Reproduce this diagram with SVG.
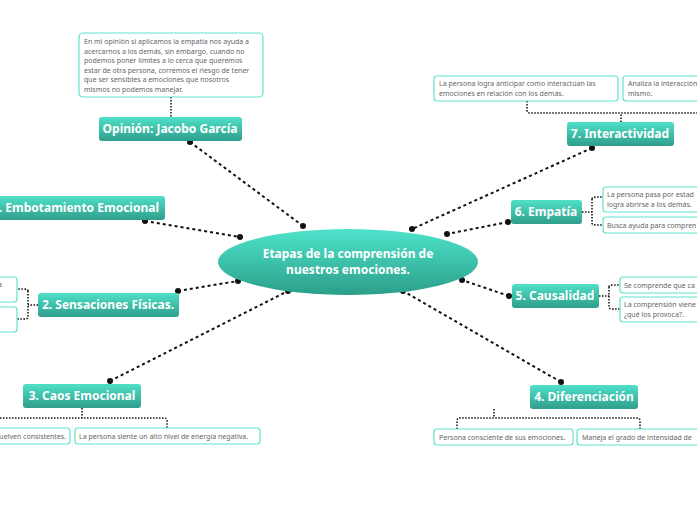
<svg xmlns="http://www.w3.org/2000/svg" width="697" height="520" viewBox="0 0 697 520">
<defs>
<linearGradient id="g" x1="0" y1="0" x2="0" y2="1"><stop offset="0" stop-color="#4fe0c8"/><stop offset="1" stop-color="#2f9e8c"/></linearGradient>
<linearGradient id="ge" x1="0" y1="0" x2="0" y2="1"><stop offset="0" stop-color="#4fe3cb"/><stop offset="1" stop-color="#2b9f8a"/></linearGradient>
<style>
.n{fill:url(#g)}
.nt{font-family:"Noto Sans",sans-serif;font-weight:bold;font-size:12px;fill:#fff}
.l{fill:#fff;stroke:#5ee3cf;stroke-width:1.2}
.lt{font-family:"Noto Sans",sans-serif;font-size:7px;fill:#666}
.c{stroke:#111;stroke-width:2;stroke-dasharray:3 3;fill:none}
.s{stroke:#111;stroke-width:1.5;stroke-dasharray:1.5 1.5;fill:none}
.d{fill:#111}
</style>
</defs>
<rect width="697" height="520" fill="#fff"/>
<g id="connectors">
<path class="c" d="M190 142L303 226M145 221L240 237M178 291L238 281M110 381L288 291M561 382L403 291M509 296L462 280M508 222L447 234M592 148L412 229"/>
<g class="d">
<circle cx="190" cy="142" r="3"/><circle cx="303" cy="226" r="3"/>
<circle cx="145" cy="221" r="3"/><circle cx="240" cy="237" r="3"/>
<circle cx="178" cy="291" r="3"/><circle cx="238" cy="281" r="3"/>
<circle cx="110" cy="381" r="3"/><circle cx="288" cy="291" r="3"/>
<circle cx="561" cy="382" r="3"/><circle cx="403" cy="291" r="3"/>
<circle cx="509" cy="296" r="3"/><circle cx="462" cy="280" r="3"/>
<circle cx="508" cy="222" r="3"/><circle cx="447" cy="234" r="3"/>
<circle cx="592" cy="148" r="3"/><circle cx="412" cy="229" r="3"/>
</g>
<path class="s" d="M171 97V117"/>
<path class="s" d="M621 122V113M527 101V110Q527 113 530 113H697"/>
<path class="s" d="M582 212H592M592 199Q592 197 596 197H603M592 199V223Q592 225 596 225H603"/>
<path class="s" d="M599 296H609M609 287Q609 285 613 285H620M609 287V307Q609 309 613 309H620"/>
<path class="s" d="M38 305H28M28 291Q28 289 24 289H17M28 291V317Q28 319 24 319H17"/>
<path class="s" d="M82 408V418M0 418H164Q167 418 167 421V428"/>
<path class="s" d="M494 409V418M457 429V421Q457 418 460 418H637Q640 418 640 421V429"/>
</g>
<g id="center">
<ellipse cx="348" cy="262" rx="130" ry="33" fill="url(#ge)"/>
<text class="nt" x="348" y="258" text-anchor="middle" font-size="11.5">Etapas de la comprensión de</text>
<text class="nt" x="348" y="274" text-anchor="middle" font-size="11.5">nuestros emociones.</text>
</g>
<g id="opinion">
<rect class="n" x="99" y="117" width="143" height="24" rx="3"/>
<text class="nt" x="170" y="133" text-anchor="middle">Opinión: Jacobo García</text>
<rect class="l" x="79" y="33" width="184" height="64" rx="4"/>
<text class="lt" x="84" y="44">En mi opinión si aplicamos la empatía nos ayuda a</text>
<text class="lt" x="84" y="53.5">acercarnos a los demás, sin embargo, cuando no</text>
<text class="lt" x="84" y="63">podemos poner límites a lo cerca que queremos</text>
<text class="lt" x="84" y="72.5">estar de otra persona, corremos el riesgo de tener</text>
<text class="lt" x="84" y="82">que ser sensibles a emociones que nosotros</text>
<text class="lt" x="84" y="91.5">mismos no podemos manejar.</text>
</g>
<g id="n1">
<rect class="n" x="-6" y="196" width="171" height="24" rx="3"/>
<text class="nt" x="159" y="212" text-anchor="end">1. Embotamiento Emocional</text>
</g>
<g id="n2">
<rect class="n" x="38" y="293" width="141" height="24" rx="3"/>
<text class="nt" x="108" y="309" text-anchor="middle">2. Sensaciones Físicas.</text>
<rect class="l" x="-5" y="277" width="22" height="25" rx="3"/>
<text class="lt" x="-2" y="287">a</text>
<rect class="l" x="-5" y="307" width="22" height="25" rx="3"/>
</g>
<g id="n3">
<rect class="n" x="23" y="384" width="118" height="24" rx="3"/>
<text class="nt" x="82" y="400" text-anchor="middle">3. Caos Emocional</text>
<rect class="l" x="-5" y="428" width="75" height="16" rx="3"/>
<text class="lt" x="66" y="439" text-anchor="end">uelven consistentes.</text>
<rect class="l" x="75" y="428" width="185" height="16" rx="3"/>
<text class="lt" x="79" y="439">La persona siente un alto nivel de energía negativa.</text>
</g>
<g id="n4">
<rect class="n" x="530" y="385" width="108" height="24" rx="3"/>
<text class="nt" x="584" y="401" text-anchor="middle">4. Diferenciación</text>
<rect class="l" x="434" y="429" width="139" height="16" rx="3"/>
<text class="lt" x="439" y="440">Persona consciente de sus emociones.</text>
<rect class="l" x="577" y="429" width="130" height="16" rx="3"/>
<text class="lt" x="582" y="440">Maneja el grado de intensidad de</text>
</g>
<g id="n5">
<rect class="n" x="512" y="284" width="87" height="24" rx="3"/>
<text class="nt" x="555" y="300" text-anchor="middle">5. Causalidad</text>
<rect class="l" x="620" y="277" width="90" height="16" rx="3"/>
<text class="lt" x="624" y="288">Se comprende que ca</text>
<rect class="l" x="620" y="297" width="90" height="25" rx="3"/>
<text class="lt" x="624" y="307">La comprensión viene</text>
<text class="lt" x="624" y="317">¿qué los provoca?.</text>
</g>
<g id="n6">
<rect class="n" x="511" y="200" width="71" height="24" rx="3"/>
<text class="nt" x="546" y="216" text-anchor="middle">6. Empatía</text>
<rect class="l" x="603" y="187" width="100" height="25" rx="3"/>
<text class="lt" x="607" y="197">La persona pasa por estad</text>
<text class="lt" x="607" y="207">logra abrirse a los demás.</text>
<rect class="l" x="603" y="217" width="100" height="16" rx="3"/>
<text class="lt" x="607" y="228">Busca ayuda para compren</text>
</g>
<g id="n7">
<rect class="n" x="567" y="122" width="107" height="24" rx="3"/>
<text class="nt" x="620" y="138" text-anchor="middle">7. Interactividad</text>
<rect class="l" x="434" y="76" width="184" height="25" rx="3"/>
<text class="lt" x="439" y="86">La persona logra anticipar como interactúan las</text>
<text class="lt" x="439" y="96">emociones en relación con los demás.</text>
<rect class="l" x="623" y="76" width="90" height="25" rx="3"/>
<text class="lt" x="628" y="86">Analiza la interacción</text>
<text class="lt" x="628" y="96">mismo.</text>
</g>
</svg>
